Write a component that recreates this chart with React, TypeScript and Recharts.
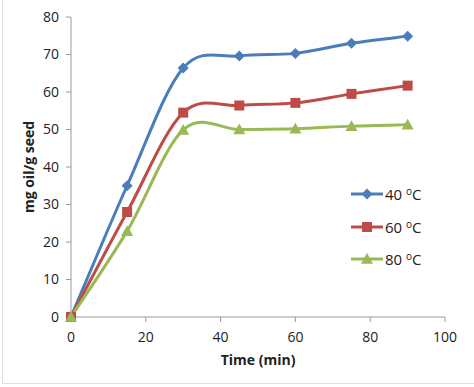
import React from 'react';
import { LineChart, Line, XAxis, YAxis } from 'recharts';

const time = [0, 15, 30, 45, 60, 75, 90];
const temp40 = [0, 35, 66.4, 69.6, 70.3, 73, 74.9];
const temp60 = [0, 28, 54.5, 56.4, 57.1, 59.5, 61.7];
const temp80 = [0, 22.9, 49.9, 50, 50.2, 50.9, 51.3];
const xTicks = [0, 20, 40, 60, 80, 100];
const yTicks = [0, 10, 20, 30, 40, 50, 60, 70, 80];

const data = time.map((t, i) => ({ time: t, t40: temp40[i], t60: temp60[i], t80: temp80[i] }));

const BLUE = '#4a7ebb';
const RED = '#be4b48';
const GREEN = '#98b954';
const AXIS = '#9a9a9a';
const FONT = '"Open Sans", sans-serif';

// Excel-style smoothing (Catmull-Rom as cubic Bezier)
function excelCurve(context: any) {
  let pts: [number, number][] = [];
  return {
    areaStart() {},
    areaEnd() {},
    lineStart() {
      pts = [];
    },
    point(x: number, y: number) {
      pts.push([+x, +y]);
    },
    lineEnd() {
      if (!pts.length) return;
      context.moveTo(pts[0][0], pts[0][1]);
      for (let i = 0; i < pts.length - 1; i++) {
        const p0 = pts[Math.max(0, i - 1)];
        const p1 = pts[i];
        const p2 = pts[i + 1];
        const p3 = pts[Math.min(pts.length - 1, i + 2)];
        context.bezierCurveTo(
          p1[0] + (p2[0] - p0[0]) / 6,
          p1[1] + (p2[1] - p0[1]) / 6,
          p2[0] - (p3[0] - p1[0]) / 6,
          p2[1] - (p3[1] - p1[1]) / 6,
          p2[0],
          p2[1]
        );
      }
    },
  };
}

function Diamond({ cx, cy, fill }: any) {
  const r = 5.5;
  return <path d={`M${cx},${cy - r}L${cx + r},${cy}L${cx},${cy + r}L${cx - r},${cy}Z`} fill={fill} />;
}
function Square({ cx, cy, fill }: any) {
  const r = 5;
  return <rect x={cx - r} y={cy - r} width={r * 2} height={r * 2} fill={fill} />;
}
function Triangle({ cx, cy, fill }: any) {
  const r = 6;
  return <path d={`M${cx},${cy - r}L${cx + r},${cy + r * 0.8}L${cx - r},${cy + r * 0.8}Z`} fill={fill} />;
}

const legendItems = [
  { label: '40', color: BLUE, Shape: Diamond },
  { label: '60', color: RED, Shape: Square },
  { label: '80', color: GREEN, Shape: Triangle },
];

function TempLegend() {
  return (
    <div style={{ position: 'absolute', left: 351, top: 178, fontFamily: FONT, fontSize: 15, color: '#222' }}>
      {legendItems.map(({ label, color, Shape }) => (
        <div key={label} style={{ display: 'flex', alignItems: 'center', height: 32.5 }}>
          <svg width={32} height={16}>
            <line x1={0} y1={8} x2={32} y2={8} stroke={color} strokeWidth={3} />
            <Shape cx={16} cy={8} fill={color} />
          </svg>
          <span style={{ marginLeft: 2 }}>
            {label} <sup style={{ fontSize: 10, verticalAlign: 5 }}>o</sup>C
          </span>
        </div>
      ))}
    </div>
  );
}

const tickStyle = { fontSize: 14, fill: '#222', fontFamily: FONT };

export default function App() {
  return (
    <div style={{ position: 'absolute', left: 0, top: 0, width: 474, height: 387, background: '#fff' }}>
      <div style={{ position: 'absolute', left: 2, top: 0, width: 472, height: 383, borderLeft: '1px solid #e0e0e0', borderBottom: '1px solid #e0e0e0' }} />
      <LineChart width={474} height={387} data={data} margin={{ top: 17, right: 29, bottom: 0, left: 31 }}>
        <XAxis
          dataKey="time"
          type="number"
          domain={[0, 100]}
          ticks={xTicks}
          stroke={AXIS}
          tickSize={5}
          tick={{ ...tickStyle, dy: 8 }}
          height={70}
          label={{ value: 'Time (min)', position: 'insideTop', offset: 38, style: { fontSize: 14, fontWeight: 'bold', fill: '#222', fontFamily: FONT } }}
        />
        <YAxis
          domain={[0, 80]}
          ticks={yTicks}
          stroke={AXIS}
          tickSize={5}
          width={40}
          tick={{ ...tickStyle, dx: -5 }}
          label={{ value: 'mg oil/g seed', angle: -90, position: 'insideLeft', offset: -2, style: { fontSize: 14, fontWeight: 'bold', fill: '#222', textAnchor: 'middle', fontFamily: FONT } }}
        />
        <Line type={excelCurve as any} dataKey="t40" stroke={BLUE} strokeWidth={3} dot={<Diamond fill={BLUE} />} isAnimationActive={false} />
        <Line type={excelCurve as any} dataKey="t60" stroke={RED} strokeWidth={3} dot={<Square fill={RED} />} isAnimationActive={false} />
        <Line type={excelCurve as any} dataKey="t80" stroke={GREEN} strokeWidth={3} dot={<Triangle fill={GREEN} />} isAnimationActive={false} />
      </LineChart>
      <TempLegend />
    </div>
  );
}
